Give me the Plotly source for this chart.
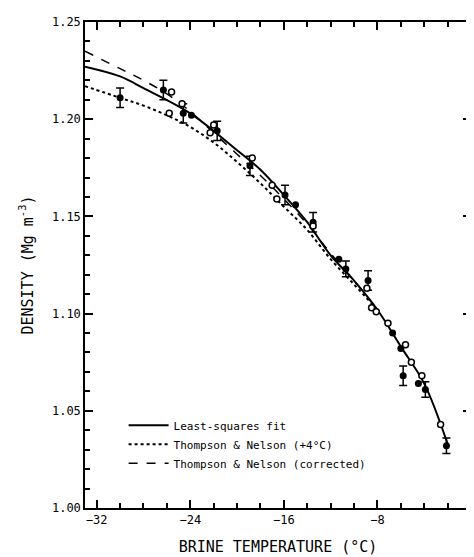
import plotly.graph_objects as go

# measured points with error bars (filled)
fx = [-30.0, -26.3, -24.6, -21.7, -18.9, -15.9, -13.5, -10.7, -8.8, -5.8, -3.9, -2.1]
fy = [1.211, 1.215, 1.203, 1.194, 1.176, 1.161, 1.147, 1.123, 1.117, 1.068, 1.061, 1.032]
ferr = [0.005, 0.005, 0.005, 0.005, 0.005, 0.005, 0.005, 0.004, 0.005, 0.005, 0.004, 0.004]
# filled points without error bars
gx = [-23.9, -15.0, -11.3, -6.7, -6.0, -4.5]
gy = [1.202, 1.156, 1.128, 1.090, 1.082, 1.064]
# open circles
ox = [-25.6, -24.7, -25.8, -22.3, -22.0, -18.7, -17.0, -16.6, -13.5, -8.9, -8.5, -8.1, -7.1, -5.6, -5.1, -4.2, -2.6]
oy = [1.214, 1.208, 1.203, 1.193, 1.197, 1.180, 1.166, 1.159, 1.145, 1.113, 1.103, 1.101, 1.095, 1.084, 1.075, 1.068, 1.043]

# curves
lsx = [-33, -30, -28, -24, -20, -18, -16, -14, -12, -10, -8, -6, -4, -2]
lsy = [1.227, 1.222, 1.216, 1.203, 1.184, 1.174, 1.161, 1.147, 1.130, 1.117, 1.102, 1.083, 1.064, 1.033]
tnx = [-33, -30, -28, -26, -24, -22, -20, -18, -16, -14, -12, -10, -8]
tn4 = [1.217, 1.211, 1.207, 1.202, 1.196, 1.188, 1.178, 1.167, 1.155, 1.143, 1.128, 1.115, 1.102]
tnc = [1.235, 1.226, 1.220, 1.213, 1.204, 1.193, 1.182, 1.171, 1.159, 1.146, 1.131, 1.117, 1.102]

fnt = dict(family="DejaVu Sans Mono", size=12, color="black")

fig = go.Figure()
fig.add_trace(go.Scatter(x=lsx, y=lsy, mode="lines", line=dict(color="black", width=2, shape="spline"),
                         name="Least-squares fit"))
fig.add_trace(go.Scatter(x=tnx, y=tn4, mode="lines", line=dict(color="black", width=2, dash="dot", shape="spline"),
                         name="Thompson & Nelson (+4°C)"))
fig.add_trace(go.Scatter(x=tnx, y=tnc, mode="lines", line=dict(color="black", width=1.5, dash="dash", shape="spline"),
                         name="Thompson & Nelson (corrected)"))
fig.add_trace(go.Scatter(x=fx, y=fy, mode="markers", showlegend=False,
                         marker=dict(color="black", size=7),
                         error_y=dict(type="data", array=ferr, color="black", thickness=1.5, width=4)))
fig.add_trace(go.Scatter(x=gx, y=gy, mode="markers", showlegend=False,
                         marker=dict(color="black", size=7)))
fig.add_trace(go.Scatter(x=ox, y=oy, mode="markers", showlegend=False,
                         marker=dict(color="white", size=6, line=dict(color="black", width=1.5))))

axis = dict(showline=True, linecolor="black", linewidth=1.5, mirror="ticks", ticks="inside",
            ticklen=8, tickwidth=1.5, tickcolor="black", showgrid=False, zeroline=False,
            tickfont=fnt)
title_font = dict(family="DejaVu Sans Mono", size=15, color="black")
fig.update_xaxes(range=[-33, 0], tickvals=[-32, -24, -16, -8, 0],
                 minor=dict(dtick=2, tick0=0, ticks="inside", ticklen=5, tickcolor="black"),
                 title=dict(text="BRINE TEMPERATURE (°C)", font=title_font), **axis)
fig.update_yaxes(range=[1.00, 1.25], tickvals=[1.00, 1.05, 1.10, 1.15, 1.20, 1.25], tickformat=".2f",
                 minor=dict(dtick=0.01, ticks="inside", ticklen=5, tickcolor="black"),
                 title=dict(text="DENSITY (Mg m<sup>-3</sup>)", font=title_font), **axis)
fig.update_layout(width=474, height=557, plot_bgcolor="white", paper_bgcolor="white",
                  margin=dict(l=77, r=11, t=7, b=57),
                  legend=dict(x=0.1, y=0.2, xanchor="left", yanchor="top", bgcolor="rgba(0,0,0,0)",
                              font=dict(family="DejaVu Sans Mono", size=11, color="black"), tracegroupgap=0,
                              itemwidth=40))
fig.write_html("out.html")
